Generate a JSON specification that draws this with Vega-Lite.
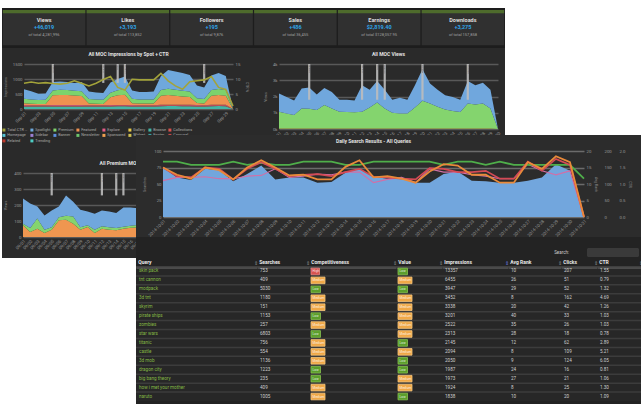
{
  "$schema": "https://vega.github.io/schema/vega-lite/v6.json",
  "background": "#ffffff",
  "padding": {"left": 2, "top": 8, "right": 0, "bottom": 0},
  "config": {
    "font": "Roboto",
    "view": {"stroke": null},
    "axis": {"labelColor": "#9a9a9a", "labelFontSize": 4.3, "titleColor": "#8c8c8c", "titleFontSize": 3.6, "titleFontWeight": "normal", "domain": false, "ticks": false, "gridColor": "#595959", "gridWidth": 1.3, "labelPadding": 2, "titlePadding": 5, "labelOverlap": false, "labelFlush": false},
    "title": {"color": "#e2e2e2", "fontSize": 5, "fontWeight": "bold", "offset": 5}
  },
  "datasets": {
    "kpi": [
      {"name": "Views", "value": "+46,019", "total": "of total 4,281,996"},
      {"name": "Likes", "value": "+3,193", "total": "of total 113,852"},
      {"name": "Followers", "value": "+195", "total": "of total 9,876"},
      {"name": "Sales", "value": "+486", "total": "of total 36,455"},
      {"name": "Earnings", "value": "$2,819.40", "total": "of total $128,057.95"},
      {"name": "Downloads", "value": "+3,275", "total": "of total 157,858"}
    ],
    "imp": [
      {"d": "2014-09-01", "Browse": 85, "Collections": 25, "Explore": 20, "Featured": 60, "Premium": 150, "Spotlight": 315, "ctr": 8.6},
      {"d": "2014-09-02", "Browse": 80, "Collections": 25, "Explore": 20, "Featured": 50, "Premium": 140, "Spotlight": 275, "ctr": 9.0},
      {"d": "2014-09-03", "Browse": 80, "Collections": 25, "Explore": 20, "Featured": 45, "Premium": 130, "Spotlight": 210, "ctr": 8.6},
      {"d": "2014-09-04", "Browse": 80, "Collections": 25, "Explore": 20, "Featured": 45, "Premium": 135, "Spotlight": 215, "ctr": 8.8},
      {"d": "2014-09-05", "Browse": 85, "Collections": 25, "Explore": 20, "Featured": 330, "Premium": 160, "Spotlight": 280, "ctr": 8.5},
      {"d": "2014-09-06", "Browse": 85, "Collections": 25, "Explore": 20, "Featured": 340, "Premium": 170, "Spotlight": 280, "ctr": 8.3},
      {"d": "2014-09-07", "Browse": 85, "Collections": 25, "Explore": 20, "Featured": 340, "Premium": 165, "Spotlight": 265, "ctr": 8.6},
      {"d": "2014-09-08", "Browse": 85, "Collections": 25, "Explore": 20, "Featured": 320, "Premium": 160, "Spotlight": 260, "ctr": 9.4},
      {"d": "2014-09-09", "Browse": 85, "Collections": 25, "Explore": 20, "Featured": 300, "Premium": 165, "Spotlight": 305, "ctr": 8.6},
      {"d": "2014-09-10", "Browse": 80, "Collections": 25, "Explore": 20, "Featured": 60, "Premium": 150, "Spotlight": 245, "ctr": 7.7},
      {"d": "2014-09-11", "Browse": 80, "Collections": 25, "Explore": 20, "Featured": 50, "Premium": 140, "Spotlight": 235, "ctr": 8.6},
      {"d": "2014-09-12", "Browse": 80, "Collections": 25, "Explore": 20, "Featured": 45, "Premium": 140, "Spotlight": 220, "ctr": 9.8},
      {"d": "2014-09-13", "Browse": 85, "Collections": 25, "Explore": 20, "Featured": 260, "Premium": 150, "Spotlight": 340, "ctr": 10.8},
      {"d": "2014-09-14", "Browse": 90, "Collections": 25, "Explore": 20, "Featured": 320, "Premium": 170, "Spotlight": 375, "ctr": 7.2},
      {"d": "2014-09-15", "Browse": 90, "Collections": 25, "Explore": 20, "Featured": 340, "Premium": 180, "Spotlight": 425, "ctr": 6.3},
      {"d": "2014-09-16", "Browse": 85, "Collections": 25, "Explore": 20, "Featured": 60, "Premium": 150, "Spotlight": 280, "ctr": 9.9},
      {"d": "2014-09-17", "Browse": 80, "Collections": 25, "Explore": 20, "Featured": 55, "Premium": 140, "Spotlight": 250, "ctr": 9.7},
      {"d": "2014-09-18", "Browse": 80, "Collections": 25, "Explore": 20, "Featured": 55, "Premium": 140, "Spotlight": 250, "ctr": 9.7},
      {"d": "2014-09-19", "Browse": 80, "Collections": 25, "Explore": 20, "Featured": 55, "Premium": 140, "Spotlight": 260, "ctr": 9.7},
      {"d": "2014-09-20", "Browse": 95, "Collections": 25, "Explore": 20, "Featured": 300, "Premium": 190, "Spotlight": 470, "ctr": 11.9},
      {"d": "2014-09-21", "Browse": 100, "Collections": 25, "Explore": 20, "Featured": 320, "Premium": 210, "Spotlight": 625, "ctr": 9.4},
      {"d": "2014-09-22", "Browse": 100, "Collections": 25, "Explore": 20, "Featured": 300, "Premium": 200, "Spotlight": 605, "ctr": 7.7},
      {"d": "2014-09-23", "Browse": 95, "Collections": 25, "Explore": 20, "Featured": 280, "Premium": 190, "Spotlight": 590, "ctr": 6.6},
      {"d": "2014-09-24", "Browse": 95, "Collections": 25, "Explore": 20, "Featured": 260, "Premium": 180, "Spotlight": 550, "ctr": 9.1},
      {"d": "2014-09-25", "Browse": 85, "Collections": 25, "Explore": 20, "Featured": 70, "Premium": 160, "Spotlight": 420, "ctr": 9.4},
      {"d": "2014-09-26", "Browse": 80, "Collections": 25, "Explore": 20, "Featured": 60, "Premium": 150, "Spotlight": 385, "ctr": 9.7},
      {"d": "2014-09-27", "Browse": 95, "Collections": 25, "Explore": 20, "Featured": 300, "Premium": 190, "Spotlight": 490, "ctr": 10.8},
      {"d": "2014-09-28", "Browse": 100, "Collections": 25, "Explore": 20, "Featured": 320, "Premium": 200, "Spotlight": 535, "ctr": 7.2},
      {"d": "2014-09-29", "Browse": 95, "Collections": 25, "Explore": 20, "Featured": 300, "Premium": 190, "Spotlight": 470, "ctr": 6.5},
      {"d": "2014-09-30", "Browse": 0, "Collections": 0, "Explore": 0, "Featured": 0, "Premium": 0, "Spotlight": 0, "ctr": 1.0}
    ],
    "views": [
      {"d": "2014-09-01", "Embedded": 25, "Free": 1040, "Premium": 1115},
      {"d": "2014-09-02", "Embedded": 25, "Free": 930, "Premium": 1015},
      {"d": "2014-09-03", "Embedded": 25, "Free": 830, "Premium": 905},
      {"d": "2014-09-04", "Embedded": 25, "Free": 1240, "Premium": 1225},
      {"d": "2014-09-05", "Embedded": 25, "Free": 1220, "Premium": 1305},
      {"d": "2014-09-06", "Embedded": 25, "Free": 1140, "Premium": 965},
      {"d": "2014-09-07", "Embedded": 25, "Free": 1450, "Premium": 1055},
      {"d": "2014-09-08", "Embedded": 25, "Free": 1240, "Premium": 1015},
      {"d": "2014-09-09", "Embedded": 25, "Free": 1040, "Premium": 735},
      {"d": "2014-09-10", "Embedded": 25, "Free": 1020, "Premium": 755},
      {"d": "2014-09-11", "Embedded": 25, "Free": 1000, "Premium": 735},
      {"d": "2014-09-12", "Embedded": 25, "Free": 1040, "Premium": 1625},
      {"d": "2014-09-13", "Embedded": 25, "Free": 1300, "Premium": 1095},
      {"d": "2014-09-14", "Embedded": 25, "Free": 1600, "Premium": 1335},
      {"d": "2014-09-15", "Embedded": 25, "Free": 1240, "Premium": 1155},
      {"d": "2014-09-16", "Embedded": 25, "Free": 970, "Premium": 805},
      {"d": "2014-09-17", "Embedded": 25, "Free": 930, "Premium": 975},
      {"d": "2014-09-18", "Embedded": 25, "Free": 930, "Premium": 845},
      {"d": "2014-09-19", "Embedded": 25, "Free": 1300, "Premium": 1365},
      {"d": "2014-09-20", "Embedded": 25, "Free": 1720, "Premium": 1925},
      {"d": "2014-09-21", "Embedded": 25, "Free": 1550, "Premium": 1225},
      {"d": "2014-09-22", "Embedded": 25, "Free": 1350, "Premium": 1045},
      {"d": "2014-09-23", "Embedded": 25, "Free": 1180, "Premium": 865},
      {"d": "2014-09-24", "Embedded": 25, "Free": 1080, "Premium": 865},
      {"d": "2014-09-25", "Embedded": 25, "Free": 1020, "Premium": 755},
      {"d": "2014-09-26", "Embedded": 25, "Free": 1550, "Premium": 1385},
      {"d": "2014-09-27", "Embedded": 25, "Free": 1490, "Premium": 1175},
      {"d": "2014-09-28", "Embedded": 25, "Free": 1550, "Premium": 1265},
      {"d": "2014-09-29", "Embedded": 25, "Free": 1240, "Premium": 1155},
      {"d": "2014-09-30", "Embedded": 0, "Free": 0, "Premium": 0}
    ],
    "prem": [
      {"d": "2014-09-01", "Direct": 73, "Referral": 10, "Search": 157},
      {"d": "2014-09-02", "Direct": 31, "Referral": 25, "Search": 154},
      {"d": "2014-09-03", "Direct": 52, "Referral": 63, "Search": 75},
      {"d": "2014-09-04", "Direct": 25, "Referral": 20, "Search": 90},
      {"d": "2014-09-05", "Direct": 46, "Referral": 15, "Search": 104},
      {"d": "2014-09-06", "Direct": 104, "Referral": 20, "Search": 66},
      {"d": "2014-09-07", "Direct": 108, "Referral": 25, "Search": 127},
      {"d": "2014-09-08", "Direct": 83, "Referral": 45, "Search": 92},
      {"d": "2014-09-09", "Direct": 46, "Referral": 15, "Search": 109},
      {"d": "2014-09-10", "Direct": 62, "Referral": 12, "Search": 86},
      {"d": "2014-09-11", "Direct": 25, "Referral": 20, "Search": 100},
      {"d": "2014-09-12", "Direct": 52, "Referral": 15, "Search": 98},
      {"d": "2014-09-13", "Direct": 46, "Referral": 15, "Search": 99},
      {"d": "2014-09-14", "Direct": 42, "Referral": 15, "Search": 93},
      {"d": "2014-09-15", "Direct": 52, "Referral": 12, "Search": 121},
      {"d": "2014-09-16", "Direct": 58, "Referral": 12, "Search": 115},
      {"d": "2014-09-17", "Direct": 60, "Referral": 15, "Search": 105},
      {"d": "2014-09-18", "Direct": 50, "Referral": 15, "Search": 105},
      {"d": "2014-09-19", "Direct": 70, "Referral": 20, "Search": 110},
      {"d": "2014-09-20", "Direct": 90, "Referral": 25, "Search": 115},
      {"d": "2014-09-21", "Direct": 80, "Referral": 20, "Search": 110},
      {"d": "2014-09-22", "Direct": 60, "Referral": 15, "Search": 115},
      {"d": "2014-09-23", "Direct": 50, "Referral": 15, "Search": 95},
      {"d": "2014-09-24", "Direct": 40, "Referral": 12, "Search": 98},
      {"d": "2014-09-25", "Direct": 55, "Referral": 15, "Search": 105},
      {"d": "2014-09-26", "Direct": 70, "Referral": 20, "Search": 110},
      {"d": "2014-09-27", "Direct": 60, "Referral": 15, "Search": 110},
      {"d": "2014-09-28", "Direct": 50, "Referral": 15, "Search": 105},
      {"d": "2014-09-29", "Direct": 45, "Referral": 12, "Search": 103},
      {"d": "2014-09-30", "Direct": 0, "Referral": 0, "Search": 0}
    ],
    "annA": [
      {"d": "2014-09-05", "t": "Update"},
      {"d": "2014-09-12", "t": "Promo"},
      {"d": "2014-09-14", "t": "Sale"},
      {"d": "2014-09-15", "t": "Contest"},
      {"d": "2014-09-26", "t": "Release"}
    ],
    "annB": [
      {"d": "2014-09-05", "t": "Update"},
      {"d": "2014-09-12", "t": "Promo"},
      {"d": "2014-09-14", "t": "Sale"},
      {"d": "2014-09-15", "t": "Contest"},
      {"d": "2014-09-20", "t": "Feature"},
      {"d": "2014-09-26", "t": "Release"}
    ],
    "daily": [
      {"d": "2014-10-01", "searches": 75, "rank": 16.8, "impr": 150, "clicks": 150, "ctr": 1.10},
      {"d": "2014-10-02", "searches": 60, "rank": 16.8, "impr": 128, "clicks": 124, "ctr": 1.20},
      {"d": "2014-10-03", "searches": 56, "rank": 15.8, "impr": 116, "clicks": 120, "ctr": 1.20},
      {"d": "2014-10-04", "searches": 73, "rank": 15.8, "impr": 150, "clicks": 150, "ctr": 1.22},
      {"d": "2014-10-05", "searches": 71, "rank": 15.8, "impr": 142, "clicks": 146, "ctr": 1.16},
      {"d": "2014-10-06", "searches": 54, "rank": 16.8, "impr": 114, "clicks": 114, "ctr": 1.16},
      {"d": "2014-10-07", "searches": 65, "rank": 15.8, "impr": 150, "clicks": 146, "ctr": 1.24},
      {"d": "2014-10-08", "searches": 78, "rank": 16.4, "impr": 172, "clicks": 166, "ctr": 1.26},
      {"d": "2014-10-09", "searches": 57, "rank": 15.8, "impr": 150, "clicks": 146, "ctr": 1.46},
      {"d": "2014-10-10", "searches": 60, "rank": 15.8, "impr": 126, "clicks": 124, "ctr": 1.20},
      {"d": "2014-10-11", "searches": 60, "rank": 16.8, "impr": 128, "clicks": 128, "ctr": 1.24},
      {"d": "2014-10-12", "searches": 52, "rank": 16.8, "impr": 114, "clicks": 130, "ctr": 1.30},
      {"d": "2014-10-13", "searches": 53, "rank": 16.8, "impr": 114, "clicks": 124, "ctr": 1.28},
      {"d": "2014-10-14", "searches": 67, "rank": 15.8, "impr": 152, "clicks": 136, "ctr": 1.36},
      {"d": "2014-10-15", "searches": 73, "rank": 15.8, "impr": 172, "clicks": 146, "ctr": 1.36},
      {"d": "2014-10-16", "searches": 61, "rank": 16.8, "impr": 120, "clicks": 122, "ctr": 1.04},
      {"d": "2014-10-17", "searches": 58, "rank": 16.8, "impr": 124, "clicks": 120, "ctr": 1.14},
      {"d": "2014-10-18", "searches": 59, "rank": 16.8, "impr": 116, "clicks": 116, "ctr": 1.20},
      {"d": "2014-10-19", "searches": 52, "rank": 16.8, "impr": 104, "clicks": 114, "ctr": 1.04},
      {"d": "2014-10-20", "searches": 52, "rank": 16.8, "impr": 138, "clicks": 148, "ctr": 1.46},
      {"d": "2014-10-21", "searches": 65, "rank": 15.8, "impr": 160, "clicks": 146, "ctr": 1.36},
      {"d": "2014-10-22", "searches": 69, "rank": 16.8, "impr": 156, "clicks": 136, "ctr": 1.36},
      {"d": "2014-10-23", "searches": 55, "rank": 16.8, "impr": 128, "clicks": 136, "ctr": 1.28},
      {"d": "2014-10-24", "searches": 54, "rank": 15.8, "impr": 128, "clicks": 140, "ctr": 1.24},
      {"d": "2014-10-25", "searches": 52, "rank": 16.8, "impr": 104, "clicks": 116, "ctr": 1.16},
      {"d": "2014-10-26", "searches": 52, "rank": 15.8, "impr": 104, "clicks": 116, "ctr": 1.16},
      {"d": "2014-10-27", "searches": 55, "rank": 15.8, "impr": 166, "clicks": 168, "ctr": 1.60},
      {"d": "2014-10-28", "searches": 60, "rank": 15.8, "impr": 146, "clicks": 140, "ctr": 1.40},
      {"d": "2014-10-29", "searches": 80, "rank": 15.8, "impr": 184, "clicks": 176, "ctr": 1.28},
      {"d": "2014-10-30", "searches": 70, "rank": 15.8, "impr": 166, "clicks": 158, "ctr": 1.40},
      {"d": "2014-10-31", "searches": 0, "rank": 11.6, "impr": 0, "clicks": 0, "ctr": 0}
    ],
    "tbl": [
      {"q": "skin pack", "s": 753, "c": "High", "v": "Low", "im": 13357, "r": 10, "cl": 207, "ctr": "1.55"},
      {"q": "tnt cannon", "s": 409, "c": "Medium", "v": "Medium", "im": 6455, "r": 26, "cl": 51, "ctr": "0.79"},
      {"q": "modpack", "s": 5030, "c": "Low", "v": "Low", "im": 3947, "r": 29, "cl": 52, "ctr": "1.32"},
      {"q": "3d tnt", "s": 1180, "c": "Medium", "v": "Medium", "im": 3452, "r": 8, "cl": 162, "ctr": "4.69"},
      {"q": "skyrim", "s": 151, "c": "Medium", "v": "Medium", "im": 3338, "r": 20, "cl": 42, "ctr": "1.26"},
      {"q": "pirate ships", "s": 1153, "c": "Low", "v": "Medium", "im": 3201, "r": 40, "cl": 33, "ctr": "1.03"},
      {"q": "zombies", "s": 257, "c": "Medium", "v": "Medium", "im": 2522, "r": 35, "cl": 26, "ctr": "1.03"},
      {"q": "star wars", "s": 6803, "c": "Low", "v": "Medium", "im": 2313, "r": 28, "cl": 18, "ctr": "0.78"},
      {"q": "titanic", "s": 756, "c": "Medium", "v": "Low", "im": 2145, "r": 12, "cl": 62, "ctr": "2.89"},
      {"q": "castle", "s": 554, "c": "Medium", "v": "Medium", "im": 2094, "r": 8, "cl": 109, "ctr": "5.21"},
      {"q": "3d mob", "s": 1136, "c": "Medium", "v": "Low", "im": 2050, "r": 9, "cl": 124, "ctr": "6.05"},
      {"q": "dragon city", "s": 1223, "c": "Low", "v": "Low", "im": 1987, "r": 24, "cl": 16, "ctr": "0.81"},
      {"q": "big bang theory", "s": 235, "c": "Low", "v": "Medium", "im": 1973, "r": 27, "cl": 21, "ctr": "1.06"},
      {"q": "how i met your mother", "s": 409, "c": "Medium", "v": "Medium", "im": 1924, "r": 8, "cl": 25, "ctr": "1.30"},
      {"q": "naruto", "s": 1005, "c": "Medium", "v": "Low", "im": 1838, "r": 10, "cl": 20, "ctr": "1.09"}
    ]
  },
  "resolve": {"scale": {"color": "independent"}},
  "columns": 1,
  "align": "none",
  "spacing": -123,
  "concat": [
    {
      "columns": 1,
      "align": "none",
      "spacing": -250,
      "resolve": {"scale": {"color": "independent"}},
      "concat": [
        {"width": 503, "height": 250, "view": {"fill": "#2a2a2a"}, "data": {"values": []}, "mark": "point"},
        {
          "spacing": 4,
          "resolve": {"scale": {"color": "independent"}},
          "vconcat": [
            {
              "width": 503, "height": 40,
              "view": {"fill": "#1d1d1d"},
              "data": {"name": "kpi"},
              "encoding": {"x": {"field": "name", "type": "nominal", "sort": null, "axis": null, "scale": {"paddingInner": 0.015, "paddingOuter": 0.01}}},
              "layer": [
                {"mark": {"type": "rect", "color": "#303030"}, "encoding": {"y": {"datum": 0.07, "scale": {"domain": [0, 1]}, "axis": null}, "y2": {"datum": 0.95}}},
                {"mark": {"type": "rect", "color": "#4e6b2c"}, "encoding": {"y": {"datum": 0.87, "scale": {"domain": [0, 1]}, "axis": null}, "y2": {"datum": 0.95}}},
                {"mark": {"type": "text", "fontSize": 5.5, "color": "#dddddd", "fontWeight": "bold"}, "encoding": {"y": {"datum": 0.71, "scale": {"domain": [0, 1]}, "axis": null}, "text": {"field": "name"}}},
                {"mark": {"type": "text", "fontSize": 5.5, "color": "#2fa4e7", "fontWeight": "bold"}, "encoding": {"y": {"datum": 0.52, "scale": {"domain": [0, 1]}, "axis": null}, "text": {"field": "value"}}},
                {"mark": {"type": "text", "fontSize": 4, "color": "#a0a0a0"}, "encoding": {"y": {"datum": 0.33, "scale": {"domain": [0, 1]}, "axis": null}, "text": {"field": "total"}}}
              ]
            },
            {
              "spacing": 14,
              "resolve": {"scale": {"color": "independent"}},
              "hconcat": [
                {
                  "spacing": 0,
                  "hconcat": [
                    {"width": 1, "height": 1, "data": {"values": []}, "mark": "point"},
                    {
                      "width": 209, "height": 45,
                      "title": "All MOC Impressions by Spot + CTR",
                      "data": {"name": "imp"},
                      "layer": [
                        {
                          "transform": [{"fold": ["Browse", "Collections", "Explore", "Featured", "Premium", "Spotlight"], "as": ["series", "value"]}],
                          "mark": {"type": "area", "opacity": 1},
                          "encoding": {
                            "x": {"field": "d", "type": "temporal", "title": null, "axis": {"format": "%b %d", "labelAngle": -45, "grid": false, "tickCount": {"interval": "day", "step": 2}}},
                            "y": {"field": "value", "type": "quantitative", "stack": "zero", "scale": {"domain": [0, 1500]}, "axis": {"values": [0, 500, 1000, 1500], "format": "d", "title": "Impressions"}},
                            "order": {"field": "series", "sort": "ascending"},
                            "color": {
                              "field": "series", "type": "nominal",
                              "scale": {
                                "domain": ["Total CTR %", "Spotlight", "Premium", "Featured", "Explore", "Gallery", "Browse", "Collections", "Homepage", "Sidebar", "Banner", "Newsletter", "Sponsored", "Widget", "Footer", "Carousel", "Related", "Trending"],
                                "range": ["#a3a33a", "#6fa8dc", "#7dd36c", "#ef9150", "#e45c88", "#e8c94a", "#43b5a5", "#d9534f", "#56c4d4", "#9b7fd4", "#5b8fe0", "#6cc46c", "#f0a050", "#d0c050", "#3aa0a0", "#c04848", "#c0392b", "#4ecdc4"]
                              },
                              "legend": {"orient": "bottom", "columns": 8, "title": null, "labelFontSize": 3.8, "labelColor": "#aaaaaa", "symbolSize": 9, "symbolType": "square", "symbolStrokeWidth": 0, "columnPadding": 2, "rowPadding": 0.5, "labelLimit": 20, "offset": 4, "labelOffset": 1.5}
                            }
                          }
                        },
                        {
                          "data": {"name": "annA"},
                          "mark": {"type": "rule", "strokeWidth": 2.2, "color": "#bdbdbd", "opacity": 0.9},
                          "encoding": {"x": {"field": "d", "type": "temporal"}, "y": {"datum": 1, "scale": {"domain": [0, 1]}, "axis": null}, "y2": {"datum": 0.58}}
                        },
                        {
                          "data": {"name": "annA"},
                          "mark": {"type": "text", "angle": 270, "align": "right", "baseline": "middle", "fontSize": 2.4, "color": "#4a4a4a"},
                          "encoding": {"x": {"field": "d", "type": "temporal"}, "y": {"datum": 0.97, "scale": {"domain": [0, 1]}, "axis": null}, "text": {"field": "t"}}
                        },
                        {
                          "mark": {"type": "line", "strokeWidth": 1.6},
                          "encoding": {
                            "x": {"field": "d", "type": "temporal"},
                            "y": {"field": "ctr", "type": "quantitative", "scale": {"domain": [0, 15]}, "axis": {"orient": "right", "values": [0, 5, 10, 15], "grid": false, "title": "CTR %"}},
                            "color": {"datum": "Total CTR %"}
                          }
                        }
                      ],
                      "resolve": {"scale": {"y": "independent"}}
                    }
                  ]
                },
                {
                  "width": 219, "height": 65,
                  "title": "All MOC Views",
                  "data": {"name": "views"},
                  "layer": [
                    {
                      "transform": [{"fold": ["Embedded", "Free", "Premium"], "as": ["series", "value"]}],
                      "mark": {"type": "area", "opacity": 1},
                      "encoding": {
                        "x": {"field": "d", "type": "temporal", "title": null, "axis": {"format": "%m/%d", "labelAngle": -45, "grid": false, "tickCount": {"interval": "day", "step": 1}}},
                        "y": {"field": "value", "type": "quantitative", "stack": "zero", "scale": {"domain": [0, 4000]}, "axis": {"values": [0, 1000, 2000, 3000, 4000], "format": "~s", "title": "Views"}},
                        "order": {"field": "series", "sort": "ascending"},
                        "color": {"field": "series", "type": "nominal", "scale": {"domain": ["Embedded", "Free", "Premium"], "range": ["#e9a13b", "#84d46e", "#70a7dd"]}, "legend": null}
                      }
                    },
                    {
                      "data": {"name": "annB"},
                      "mark": {"type": "rule", "strokeWidth": 2.2, "color": "#bdbdbd", "opacity": 0.9},
                      "encoding": {"x": {"field": "d", "type": "temporal"}, "y": {"datum": 1, "scale": {"domain": [0, 1]}, "axis": null}, "y2": {"datum": 0.45}}
                    },
                    {
                      "data": {"name": "annB"},
                      "mark": {"type": "text", "angle": 270, "align": "right", "baseline": "middle", "fontSize": 2.4, "color": "#4a4a4a"},
                      "encoding": {"x": {"field": "d", "type": "temporal"}, "y": {"datum": 0.98, "scale": {"domain": [0, 1]}, "axis": null}, "text": {"field": "t"}}
                    }
                  ],
                  "resolve": {"scale": {"y": "independent"}}
                }
              ]
            },
            {
              "spacing": 0,
              "vconcat": [
                {"width": 1, "height": 14, "data": {"values": []}, "mark": "point"},
                {
                  "spacing": 0,
                  "hconcat": [
                    {"width": 1, "height": 1, "data": {"values": []}, "mark": "point"},
                    {
                      "width": 208, "height": 64,
                      "title": "All Premium MOC Views",
                      "data": {"name": "prem"},
                      "layer": [
                        {
                          "transform": [{"fold": ["Direct", "Referral", "Search"], "as": ["series", "value"]}],
                          "mark": {"type": "area", "opacity": 1},
                          "encoding": {
                            "x": {"field": "d", "type": "temporal", "title": null, "axis": {"format": "%m/%d", "labelAngle": -45, "grid": false, "tickCount": {"interval": "day", "step": 1}}},
                            "y": {"field": "value", "type": "quantitative", "stack": "zero", "scale": {"domain": [0, 400]}, "axis": {"values": [0, 100, 200, 300, 400], "title": "Views", "titlePadding": 6}},
                            "order": {"field": "series", "sort": "ascending"},
                            "color": {"field": "series", "type": "nominal", "scale": {"domain": ["Direct", "Referral", "Search"], "range": ["#ef9650", "#84d46e", "#70a7dd"]}, "legend": null}
                          }
                        },
                        {
                          "data": {"name": "annA"},
                          "mark": {"type": "rule", "strokeWidth": 2.2, "color": "#bdbdbd", "opacity": 0.9},
                          "encoding": {"x": {"field": "d", "type": "temporal"}, "y": {"datum": 1, "scale": {"domain": [0, 1]}, "axis": null}, "y2": {"datum": 0.65}}
                        },
                        {
                          "data": {"name": "annA"},
                          "mark": {"type": "text", "angle": 270, "align": "right", "baseline": "middle", "fontSize": 2.4, "color": "#4a4a4a"},
                          "encoding": {"x": {"field": "d", "type": "temporal"}, "y": {"datum": 0.98, "scale": {"domain": [0, 1]}, "axis": null}, "text": {"field": "t"}}
                        }
                      ],
                      "resolve": {"scale": {"y": "independent"}}
                    }
                  ]
                }
              ]
            }
          ]
        }
      ]
    },
    {
      "spacing": 0,
      "hconcat": [
        {"width": 133, "height": 1, "data": {"values": []}, "mark": "point"},
        {
          "columns": 1,
          "align": "none",
          "spacing": -269,
          "concat": [
            {"width": 506, "height": 269, "view": {"fill": "#232323"}, "data": {"values": []}, "mark": "point"},
            {
              "columns": 1,
              "align": "none",
              "spacing": -98,
              "concat": [
                {"width": 506, "height": 102, "view": {"fill": "#2c2c2c"}, "data": {"values": []}, "mark": "point"},
                {
                  "spacing": 10,
                  "vconcat": [
                    {
                      "spacing": 0,
                      "hconcat": [
                        {"width": 6, "height": 1, "data": {"values": []}, "mark": "point"},
                        {
                          "width": 421, "height": 66,
                          "title": "Daily Search Results - All Queries",
                          "data": {"name": "daily"},
                          "layer": [
                            {
                              "mark": {"type": "area", "color": "#72a6dd", "opacity": 1},
                              "encoding": {
                                "x": {"field": "d", "type": "temporal", "title": null, "axis": {"format": "%Y-%m-%d", "labelAngle": -45, "grid": false, "tickCount": {"interval": "day", "step": 1}}},
                                "y": {"field": "searches", "type": "quantitative", "scale": {"domain": [0, 100]}, "axis": {"values": [0, 25, 50, 75, 100], "title": "Searches", "gridColor": "#6b6b6b", "gridWidth": 1.6, "titlePadding": 7}}
                              }
                            },
                            {
                              "mark": {"type": "line", "color": "#d070a8", "strokeWidth": 1.2},
                              "encoding": {
                                "x": {"field": "d", "type": "temporal"},
                                "y": {"field": "ctr", "type": "quantitative", "scale": {"domain": [0, 2]}, "axis": {"orient": "right", "offset": 33, "values": [0, 0.5, 1, 1.5, 2], "format": ".1f", "grid": false, "title": "CTR", "titlePadding": 3}}
                              }
                            },
                            {
                              "mark": {"type": "line", "color": "#4fae4a", "strokeWidth": 1.8},
                              "encoding": {
                                "x": {"field": "d", "type": "temporal"},
                                "y": {"field": "rank", "type": "quantitative", "scale": {"domain": [0, 20]}, "axis": {"orient": "right", "values": [0, 5, 10, 15, 20], "grid": false, "title": "Avg Rank", "titlePadding": 3}}
                              }
                            },
                            {
                              "mark": {"type": "line", "color": "#d44a55", "strokeWidth": 1.7},
                              "encoding": {
                                "x": {"field": "d", "type": "temporal"},
                                "y": {"field": "clicks", "type": "quantitative", "scale": {"domain": [0, 200]}, "axis": null}
                              }
                            },
                            {
                              "mark": {"type": "line", "color": "#e98a3a", "strokeWidth": 1.8},
                              "encoding": {
                                "x": {"field": "d", "type": "temporal"},
                                "y": {"field": "impr", "type": "quantitative", "scale": {"domain": [0, 200]}, "axis": {"orient": "right", "offset": 18, "values": [0, 50, 100, 150, 200], "grid": false, "title": null}}
                              }
                            }
                          ],
                          "resolve": {"scale": {"y": "independent"}}
                        }
                      ]
                    },
                    {
                      "spacing": 3,
                      "vconcat": [
                        {
                          "spacing": 0,
                          "hconcat": [
                            {"width": 418, "height": 1, "data": {"values": []}, "mark": "point"},
                            {
                              "width": 52, "height": 9,
                              "view": {"fill": "#3a3a3a", "cornerRadius": 1.5},
                              "title": {"text": "Search:", "orient": "left", "angle": 0, "align": "right", "baseline": "middle", "offset": 3, "fontSize": 4.5, "fontWeight": "normal", "color": "#cccccc"},
                              "data": {"values": []},
                              "mark": "point"
                            }
                          ]
                        },
                        {
                          "spacing": 0,
                          "bounds": "flush",
                          "hconcat": [
                            {
                              "width": 121, "height": 134, "view": {"fill": "#272727"},
                              "title": {"text": "Query", "anchor": "start", "dx": 3, "offset": -5, "fontSize": 5, "color": "#e8e8e8"},
                              "data": {"name": "tbl"},
                              "layer": [
                                {"mark": {"type": "rule", "color": "#3c3c3c", "strokeWidth": 1.5}, "encoding": {"y": {"field": "q", "type": "nominal", "sort": null, "axis": null, "bandPosition": 0, "scale": {"paddingInner": 0, "paddingOuter": 0}}}},
                                {"mark": {"type": "text", "align": "left", "dx": 3, "fontSize": 4.6, "color": "#84b745"}, "encoding": {
                                  "x": {"datum": 0, "type": "quantitative", "scale": {"domain": [0, 1]}, "axis": {"orient": "top", "domain": true, "domainColor": "#707070", "domainWidth": 2, "labels": false, "ticks": false, "grid": false, "title": "⇕", "titleAnchor": "end", "titleFontSize": 5, "titleColor": "#8a8a8a", "titlePadding": 2}},
                                  "y": {"field": "q", "type": "nominal", "sort": null, "axis": null},
                                  "text": {"field": "q"}}}
                              ]
                            },
                            {
                              "width": 52, "height": 134, "view": {"fill": "#272727"},
                              "title": {"text": "Searches", "anchor": "start", "dx": 3, "offset": -5, "fontSize": 5, "color": "#e8e8e8"},
                              "data": {"name": "tbl"},
                              "layer": [
                                {"mark": {"type": "rule", "color": "#3c3c3c", "strokeWidth": 1.5}, "encoding": {"y": {"field": "q", "type": "nominal", "sort": null, "axis": null, "bandPosition": 0, "scale": {"paddingInner": 0, "paddingOuter": 0}}}},
                                {"mark": {"type": "text", "align": "left", "dx": 3, "fontSize": 4.6, "color": "#cfcfcf"}, "encoding": {
                                  "x": {"datum": 0, "type": "quantitative", "scale": {"domain": [0, 1]}, "axis": {"orient": "top", "domain": true, "domainColor": "#707070", "domainWidth": 2, "labels": false, "ticks": false, "grid": false, "title": "⇕", "titleAnchor": "end", "titleFontSize": 5, "titleColor": "#8a8a8a", "titlePadding": 2}},
                                  "y": {"field": "q", "type": "nominal", "sort": null, "axis": null},
                                  "text": {"field": "s"}}}
                              ]
                            },
                            {
                              "width": 87, "height": 134, "view": {"fill": "#272727"},
                              "title": {"text": "Competitiveness", "anchor": "start", "dx": 3, "offset": -5, "fontSize": 5, "color": "#e8e8e8"},
                              "data": {"name": "tbl"},
                              "layer": [
                                {"mark": {"type": "rule", "color": "#3c3c3c", "strokeWidth": 1.5}, "encoding": {"y": {"field": "q", "type": "nominal", "sort": null, "axis": null, "bandPosition": 0, "scale": {"paddingInner": 0, "paddingOuter": 0}}}},
                                {"mark": {"type": "point", "filled": true, "size": 4, "strokeWidth": 0.8, "opacity": 1}, "encoding": {
                                  "x": {"datum": 0, "type": "quantitative", "scale": {"domain": [0, 1]}, "axis": {"orient": "top", "domain": true, "domainColor": "#707070", "domainWidth": 2, "labels": false, "ticks": false, "grid": false, "title": "⇕", "titleAnchor": "end", "titleFontSize": 5, "titleColor": "#8a8a8a", "titlePadding": 2}},
                                  "y": {"field": "q", "type": "nominal", "sort": null, "axis": null},
                                  "shape": {"field": "c", "type": "nominal", "scale": {"domain": ["High", "Medium", "Low"], "range": ["M2,-3.3H10.5V3.3H2Z", "M2,-3.3H16V3.3H2Z", "M2,-3.3H11.5V3.3H2Z"]}, "legend": null},
                                  "fill": {"field": "c", "type": "nominal", "scale": {"domain": ["High", "Medium", "Low"], "range": ["#d9534f", "#f0a847", "#5b9e2c"]}, "legend": null},
                                  "stroke": {"field": "c", "type": "nominal", "scale": {"domain": ["High", "Medium", "Low"], "range": ["#e88785", "#f8c67e", "#86c04f"]}, "legend": null}}},
                                {"mark": {"type": "text", "align": "left", "dx": 3.6, "fontSize": 3.2, "color": "#ffffff", "opacity": 0.85}, "encoding": {
                                  "x": {"datum": 0, "type": "quantitative", "scale": {"domain": [0, 1]}, "axis": {"orient": "top", "domain": true, "domainColor": "#707070", "domainWidth": 2, "labels": false, "ticks": false, "grid": false, "title": "⇕", "titleAnchor": "end", "titleFontSize": 5, "titleColor": "#8a8a8a", "titlePadding": 2}},
                                  "y": {"field": "q", "type": "nominal", "sort": null, "axis": null},
                                  "text": {"field": "c"}}}
                              ]
                            },
                            {
                              "width": 46, "height": 134, "view": {"fill": "#272727"},
                              "title": {"text": "Value", "anchor": "start", "dx": 3, "offset": -5, "fontSize": 5, "color": "#e8e8e8"},
                              "data": {"name": "tbl"},
                              "layer": [
                                {"mark": {"type": "rule", "color": "#3c3c3c", "strokeWidth": 1.5}, "encoding": {"y": {"field": "q", "type": "nominal", "sort": null, "axis": null, "bandPosition": 0, "scale": {"paddingInner": 0, "paddingOuter": 0}}}},
                                {"mark": {"type": "point", "filled": true, "size": 4, "strokeWidth": 0.8, "opacity": 1}, "encoding": {
                                  "x": {"datum": 0, "type": "quantitative", "scale": {"domain": [0, 1]}, "axis": {"orient": "top", "domain": true, "domainColor": "#707070", "domainWidth": 2, "labels": false, "ticks": false, "grid": false, "title": "⇕", "titleAnchor": "end", "titleFontSize": 5, "titleColor": "#8a8a8a", "titlePadding": 2}},
                                  "y": {"field": "q", "type": "nominal", "sort": null, "axis": null},
                                  "shape": {"field": "v", "type": "nominal", "scale": {"domain": ["High", "Medium", "Low"], "range": ["M2,-3.3H10.5V3.3H2Z", "M2,-3.3H16V3.3H2Z", "M2,-3.3H11.5V3.3H2Z"]}, "legend": null},
                                  "fill": {"field": "v", "type": "nominal", "scale": {"domain": ["High", "Medium", "Low"], "range": ["#d9534f", "#f0a847", "#5b9e2c"]}, "legend": null},
                                  "stroke": {"field": "v", "type": "nominal", "scale": {"domain": ["High", "Medium", "Low"], "range": ["#e88785", "#f8c67e", "#86c04f"]}, "legend": null}}},
                                {"mark": {"type": "text", "align": "left", "dx": 3.6, "fontSize": 3.2, "color": "#ffffff", "opacity": 0.85}, "encoding": {
                                  "x": {"datum": 0, "type": "quantitative", "scale": {"domain": [0, 1]}, "axis": {"orient": "top", "domain": true, "domainColor": "#707070", "domainWidth": 2, "labels": false, "ticks": false, "grid": false, "title": "⇕", "titleAnchor": "end", "titleFontSize": 5, "titleColor": "#8a8a8a", "titlePadding": 2}},
                                  "y": {"field": "q", "type": "nominal", "sort": null, "axis": null},
                                  "text": {"field": "v"}}}
                              ]
                            },
                            {
                              "width": 66, "height": 134, "view": {"fill": "#272727"},
                              "title": {"text": "Impressions", "anchor": "start", "dx": 3, "offset": -5, "fontSize": 5, "color": "#e8e8e8"},
                              "data": {"name": "tbl"},
                              "layer": [
                                {"mark": {"type": "rule", "color": "#3c3c3c", "strokeWidth": 1.5}, "encoding": {"y": {"field": "q", "type": "nominal", "sort": null, "axis": null, "bandPosition": 0, "scale": {"paddingInner": 0, "paddingOuter": 0}}}},
                                {"mark": {"type": "text", "align": "left", "dx": 3, "fontSize": 4.6, "color": "#cfcfcf"}, "encoding": {
                                  "x": {"datum": 0, "type": "quantitative", "scale": {"domain": [0, 1]}, "axis": {"orient": "top", "domain": true, "domainColor": "#707070", "domainWidth": 2, "labels": false, "ticks": false, "grid": false, "title": "⇕", "titleAnchor": "end", "titleFontSize": 5, "titleColor": "#6c7ae0", "titlePadding": 2}},
                                  "y": {"field": "q", "type": "nominal", "sort": null, "axis": null},
                                  "text": {"field": "im"}}}
                              ]
                            },
                            {
                              "width": 53, "height": 134, "view": {"fill": "#272727"},
                              "title": {"text": "Avg Rank", "anchor": "start", "dx": 3, "offset": -5, "fontSize": 5, "color": "#e8e8e8"},
                              "data": {"name": "tbl"},
                              "layer": [
                                {"mark": {"type": "rule", "color": "#3c3c3c", "strokeWidth": 1.5}, "encoding": {"y": {"field": "q", "type": "nominal", "sort": null, "axis": null, "bandPosition": 0, "scale": {"paddingInner": 0, "paddingOuter": 0}}}},
                                {"mark": {"type": "text", "align": "left", "dx": 3, "fontSize": 4.6, "color": "#cfcfcf"}, "encoding": {
                                  "x": {"datum": 0, "type": "quantitative", "scale": {"domain": [0, 1]}, "axis": {"orient": "top", "domain": true, "domainColor": "#707070", "domainWidth": 2, "labels": false, "ticks": false, "grid": false, "title": "⇕", "titleAnchor": "end", "titleFontSize": 5, "titleColor": "#8a8a8a", "titlePadding": 2}},
                                  "y": {"field": "q", "type": "nominal", "sort": null, "axis": null},
                                  "text": {"field": "r"}}}
                              ]
                            },
                            {
                              "width": 36, "height": 134, "view": {"fill": "#272727"},
                              "title": {"text": "Clicks", "anchor": "start", "dx": 3, "offset": -5, "fontSize": 5, "color": "#e8e8e8"},
                              "data": {"name": "tbl"},
                              "layer": [
                                {"mark": {"type": "rule", "color": "#3c3c3c", "strokeWidth": 1.5}, "encoding": {"y": {"field": "q", "type": "nominal", "sort": null, "axis": null, "bandPosition": 0, "scale": {"paddingInner": 0, "paddingOuter": 0}}}},
                                {"mark": {"type": "text", "align": "left", "dx": 3, "fontSize": 4.6, "color": "#cfcfcf"}, "encoding": {
                                  "x": {"datum": 0, "type": "quantitative", "scale": {"domain": [0, 1]}, "axis": {"orient": "top", "domain": true, "domainColor": "#707070", "domainWidth": 2, "labels": false, "ticks": false, "grid": false, "title": "⇕", "titleAnchor": "end", "titleFontSize": 5, "titleColor": "#8a8a8a", "titlePadding": 2}},
                                  "y": {"field": "q", "type": "nominal", "sort": null, "axis": null},
                                  "text": {"field": "cl"}}}
                              ]
                            },
                            {
                              "width": 45, "height": 134, "view": {"fill": "#272727"},
                              "title": {"text": "CTR", "anchor": "start", "dx": 3, "offset": -5, "fontSize": 5, "color": "#e8e8e8"},
                              "data": {"name": "tbl"},
                              "layer": [
                                {"mark": {"type": "rule", "color": "#3c3c3c", "strokeWidth": 1.5}, "encoding": {"y": {"field": "q", "type": "nominal", "sort": null, "axis": null, "bandPosition": 0, "scale": {"paddingInner": 0, "paddingOuter": 0}}}},
                                {"mark": {"type": "text", "align": "left", "dx": 3, "fontSize": 4.6, "color": "#cfcfcf"}, "encoding": {
                                  "x": {"datum": 0, "type": "quantitative", "scale": {"domain": [0, 1]}, "axis": {"orient": "top", "domain": true, "domainColor": "#707070", "domainWidth": 2, "labels": false, "ticks": false, "grid": false, "title": "⇕", "titleAnchor": "end", "titleFontSize": 5, "titleColor": "#8a8a8a", "titlePadding": 2}},
                                  "y": {"field": "q", "type": "nominal", "sort": null, "axis": null},
                                  "text": {"field": "ctr"}}}
                              ]
                            }
                          ]
                        }
                      ]
                    }
                  ]
                }
              ]
            }
          ]
        }
      ]
    }
  ]
}
